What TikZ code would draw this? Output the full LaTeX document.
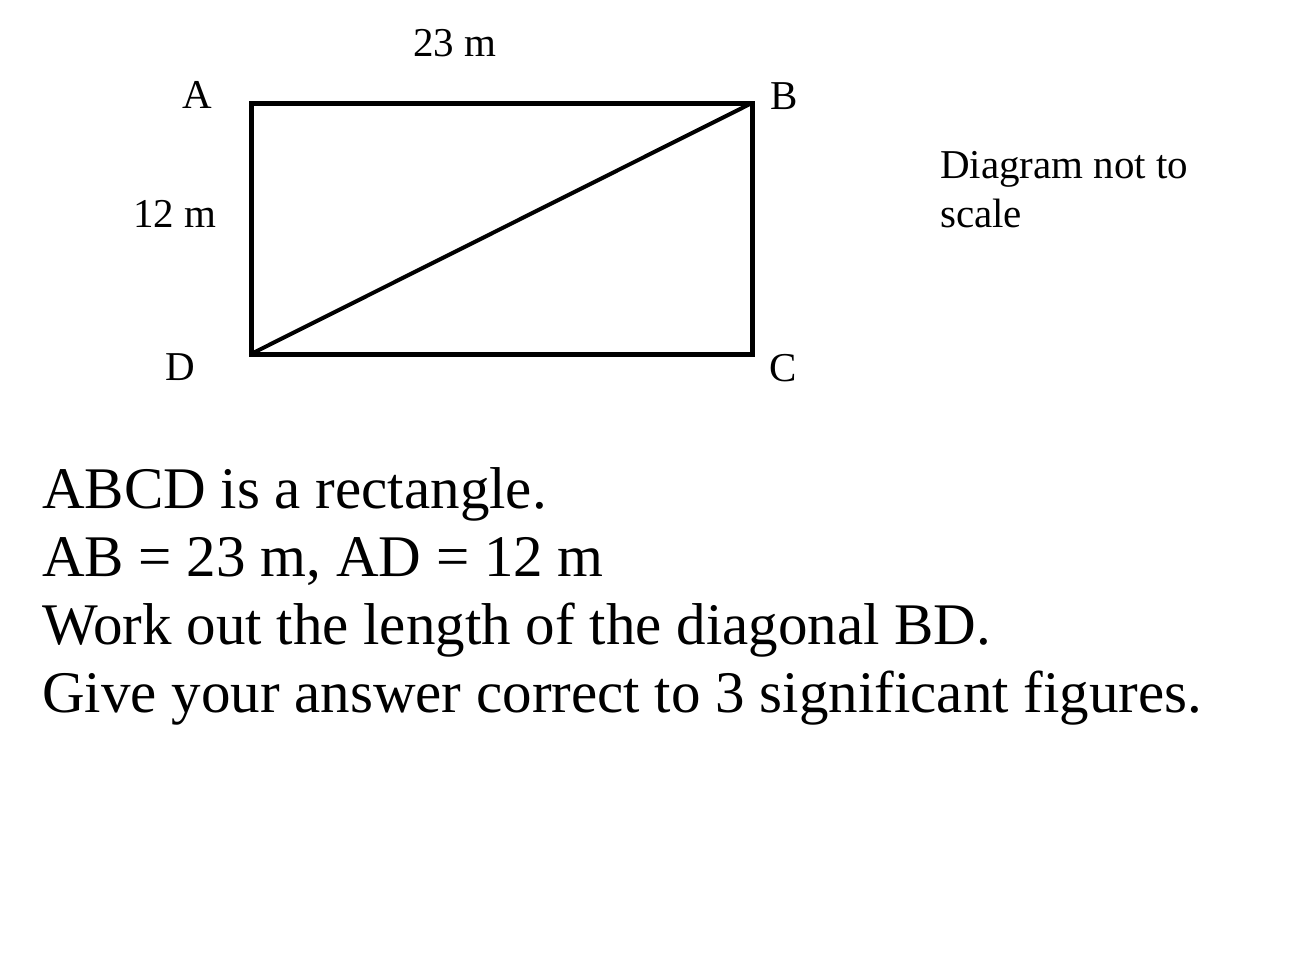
\documentclass[tikz,border=0pt]{standalone}
\usepackage{fontspec}
\setmainfont{Liberation Serif}
\begin{document}
\begin{tikzpicture}[x=1pt,y=-1pt,
  lbl/.style={inner sep=0pt,anchor=base west,font=\fontsize{41}{41}\selectfont},
  bigtxt/.style={inner sep=0pt,anchor=base west,font=\fontsize{59}{68}\selectfont},
  edge/.style={line width=5pt,line cap=rect,line join=miter},
  diag/.style={line width=4pt}]
\useasboundingbox (0,0) rectangle (1315,966);
\fill[white] (0,0) rectangle (1315,966);
\coordinate (A) at (251,103);
\coordinate (B) at (752,103);
\coordinate (C) at (752,354);
\coordinate (D) at (251,354);
\draw[edge] (A) -- (B) -- (C) -- (D) -- cycle;
\draw[diag] (D) -- (B);
\node[lbl,anchor=base] (top) at (455,57) {23 m};
\node[lbl] (lA) at (182,109) {A};
\node[lbl] (lB) at (770,110) {B};
\node[lbl] (left) at (133,227) {12 m};
\node[lbl] (lD) at (165,380) {D};
\node[lbl] (lC) at (769,381) {C};
\node[lbl] (n1) at (940,178) {Diagram not to};
\node[lbl] (n2) at (940,227) {scale};
\node[bigtxt] (t1) at (42,508) {ABCD is a rectangle.};
\node[bigtxt] (t2) at (42,576) {AB = 23 m, AD = 12 m};
\node[bigtxt] (t3) at (42,644) {Work out the length of the diagonal BD.};
\node[bigtxt] (t4) at (42,712) {Give your answer correct to 3 significant figures.};
\end{tikzpicture}
\end{document}
